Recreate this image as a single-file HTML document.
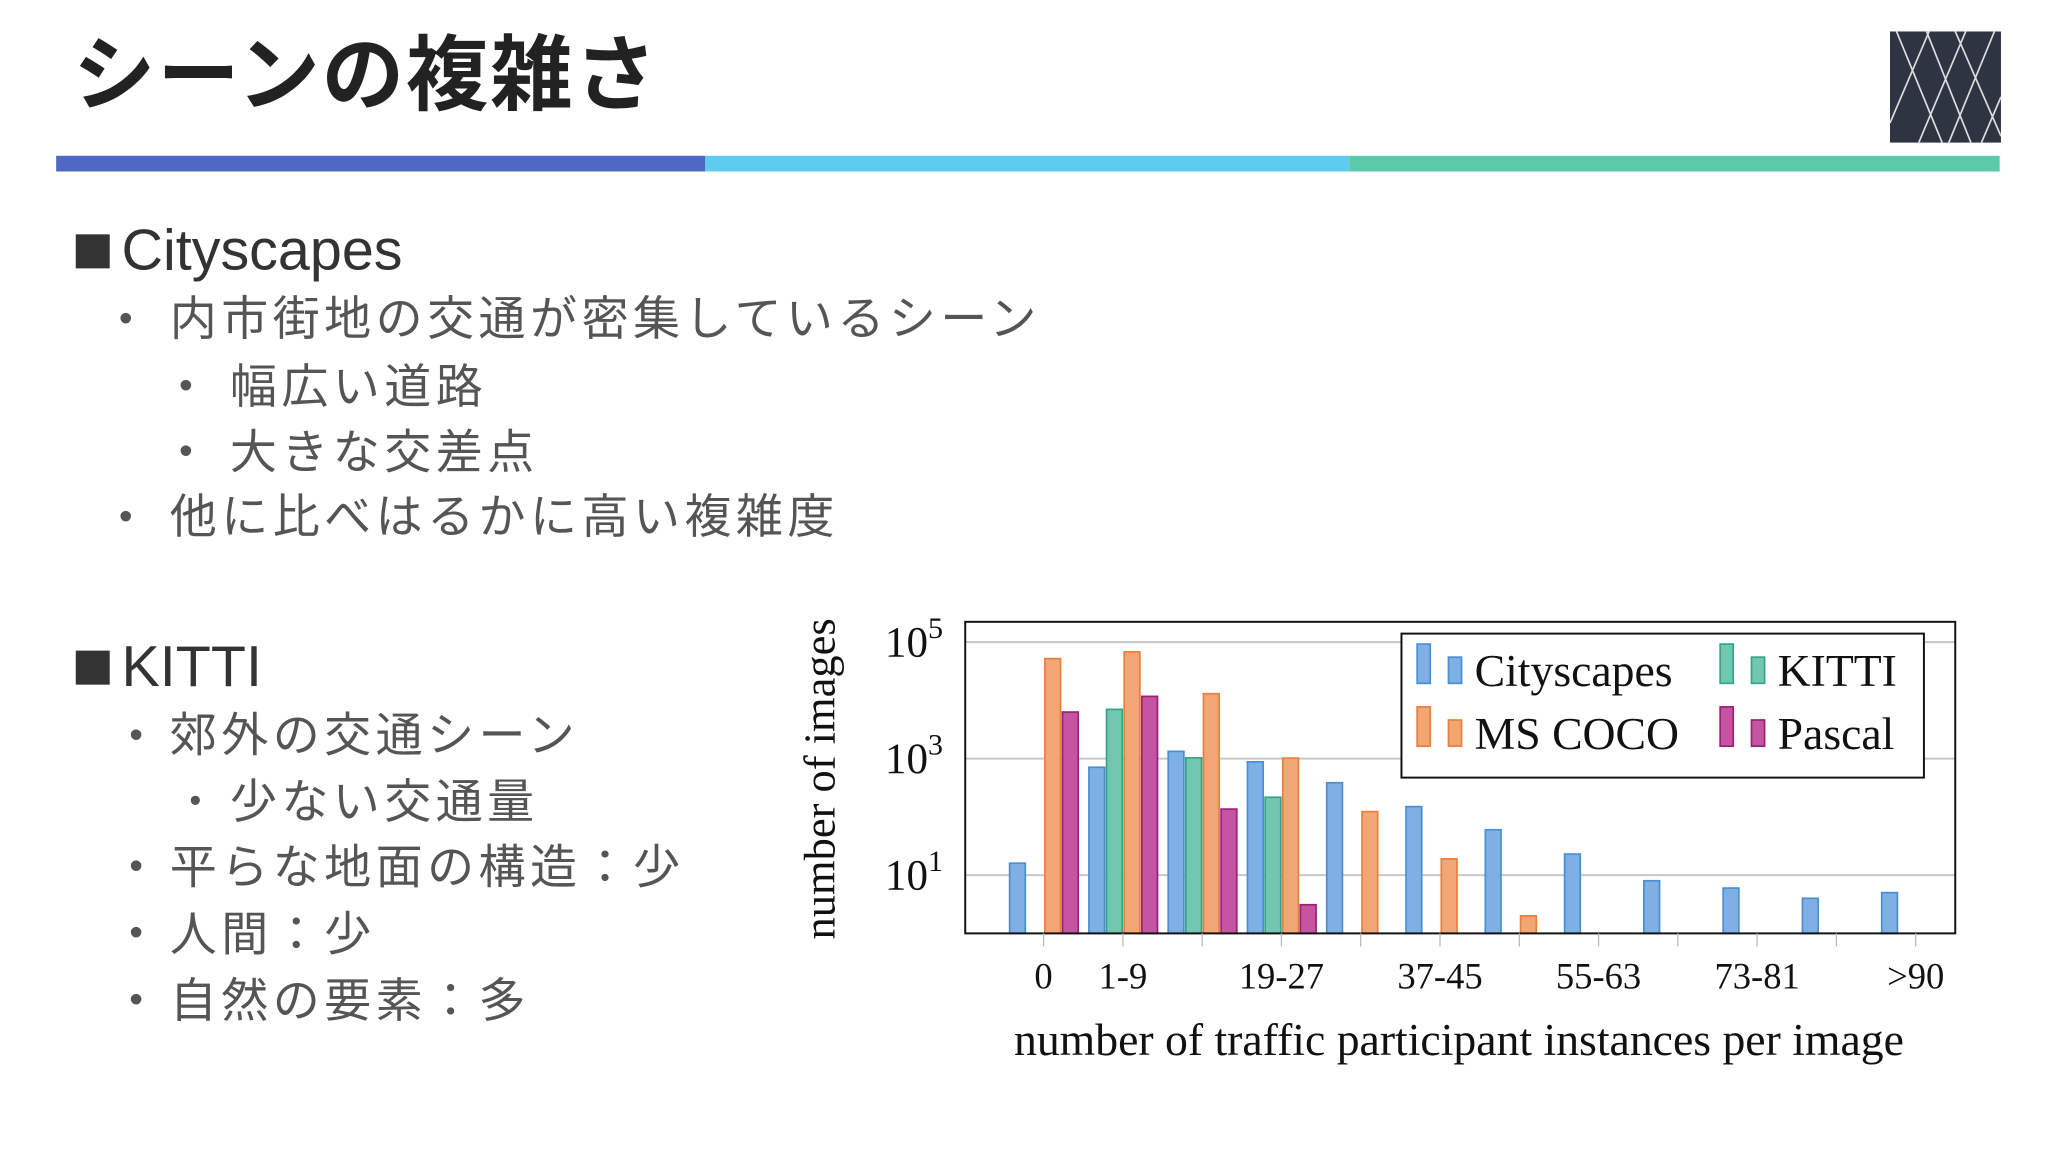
<!DOCTYPE html>
<html><head><meta charset="utf-8"><style>
html,body{margin:0;padding:0;background:#fff;overflow:hidden}
#page{position:absolute;left:0;top:0;width:1568px;height:880px;transform-origin:0 0;transform:scale(1.30612,1.30909);font-family:"Liberation Sans","Noto Sans CJK JP",sans-serif}
.t{position:absolute;white-space:nowrap;line-height:1}
.b{position:absolute;font-size:30px;color:#555;line-height:1}
.j{letter-spacing:3.4px}
</style></head><body>
<div id="page">
<div class="t" style="left:56px;top:27px;font-size:63px;font-weight:bold;color:#222;letter-spacing:1.5px">シーンの複雑さ</div>
<svg style="position:absolute;left:1447px;top:24px" width="85" height="85"><rect width="85" height="85" fill="#2e3442"/><g stroke="#ddd" stroke-width="1.3" fill="none"><path d="M5 0 L40 85 M28 0 L62 85 M50 0 L85 80 M0 70 L30 0 M22 85 L58 0 M45 85 L80 0 M70 85 L85 50"/></g></svg>
<div style="position:absolute;left:43px;top:119px;width:497px;height:12px;background:#5068c4"></div>
<div style="position:absolute;left:540px;top:119px;width:493px;height:12px;background:#5fcbef"></div>
<div style="position:absolute;left:1033px;top:119px;width:498px;height:12px;background:#5ccaa8"></div>

<div style="position:absolute;left:58px;top:179px;width:26px;height:26px;background:#333"></div>
<div class="t" style="left:93px;top:170px;font-size:44px;color:#333">Cityscapes</div>
<div class="b" style="left:91px;top:229px">•</div>
<div class="t j" style="left:130px;top:226px;font-size:36px;color:#555">内市街地の交通が密集しているシーン</div>
<div class="b" style="left:137px;top:280px">•</div>
<div class="t j" style="left:176px;top:278px;font-size:36px;color:#555">幅広い道路</div>
<div class="b" style="left:137px;top:330px">•</div>
<div class="t j" style="left:176px;top:328px;font-size:36px;color:#555">大きな交差点</div>
<div class="b" style="left:91px;top:380px">•</div>
<div class="t j" style="left:130px;top:377px;font-size:36px;color:#555">他に比べはるかに高い複雑度</div>

<div style="position:absolute;left:58px;top:497px;width:26px;height:26px;background:#333"></div>
<div class="t" style="left:93px;top:488px;font-size:44px;color:#333">KITTI</div>
<div class="b" style="left:99px;top:547px">•</div>
<div class="t j" style="left:130px;top:544px;font-size:36px;color:#555">郊外の交通シーン</div>
<div class="b" style="left:145px;top:598px;font-size:26px">•</div>
<div class="t j" style="left:176px;top:595px;font-size:36px;color:#555">少ない交通量</div>
<div class="b" style="left:99px;top:647px">•</div>
<div class="t j" style="left:130px;top:645px;font-size:36px;color:#555">平らな地面の構造：少</div>
<div class="b" style="left:99px;top:698px">•</div>
<div class="t j" style="left:130px;top:696px;font-size:36px;color:#555">人間：少</div>
<div class="b" style="left:99px;top:749px">•</div>
<div class="t j" style="left:130px;top:747px;font-size:36px;color:#555">自然の要素：多</div>

<svg id="chart" style="position:absolute;left:0;top:0" width="1568" height="880" font-family="'Liberation Serif',serif"></svg>
</div>
<script>
const categories=["0","1-9","10-18","19-27","28-36","37-45","46-54","55-63","64-72","73-81","82-90",">90"];
const tickLabels=["0","1-9","","19-27","","37-45","","55-63","","73-81","",">90"];
const seriesNames=["Cityscapes","KITTI","MS COCO","Pascal"];
const cityscapes=[16,710,1330,880,385,150,60,23,8,6,4,5];
const kitti=[null,7000,1030,217,null,null,null,null,null,null,null,null];
const mscoco=[52000,68000,13000,1020,123,19,2,null,null,null,null,null];
const pascal=[6300,11700,136,3.1,null,null,null,null,null,null,null,null];
const yTicks=[10,1000,100000];
const yTickExp=["1","3","5"];

const NS="http://www.w3.org/2000/svg";
const svg=document.getElementById('chart');
const PL=739,PR=1497,PT=475,PB=713;
function y(v){return PB-Math.log10(v)*44.5;}
function x(i){return 799+i*60.7;}
function mk(t,a,p){const e=document.createElementNS(NS,t);for(const k in a)e.setAttribute(k,a[k]);(p||svg).appendChild(e);return e;}
const series=[cityscapes,kitti,mscoco,pascal];
const fills=["#7eb0e4","#72c7b0","#f2a673","#c455a0"];
const strokes=["#4a8fd6","#35a585","#e8803d","#9e1f78"];
const offs=[-20,-6.5,7,20.5];
yTicks.forEach((v,i)=>{
  const g=mk('line',{x1:PL,x2:PR,y1:y(v),y2:y(v),stroke:'#c8c8c8','stroke-width':1.5});
  
  
  const t=mk('text',{x:722,y:y(v)+11,'font-size':33,'text-anchor':'end',fill:'#111'});
  
  
  t.textContent='10';
  const s=mk('tspan',{dy:-14,'font-size':23},t);s.textContent=yTickExp[i];
});
series.forEach((arr,s)=>{
  arr.forEach((v,i)=>{
    if(v==null)return;
    const r=mk('rect',{x:x(i)+offs[s]-6,y:y(v),width:12,height:PB-y(v),fill:fills[s],stroke:strokes[s],'stroke-width':1.3});
    
    
  });
});
const fr=mk('rect',{x:PL,y:PT,width:PR-PL,height:PB-PT,fill:'none',stroke:'#111','stroke-width':1.5});


categories.forEach((c,i)=>{
  const tk=mk('line',{x1:x(i),x2:x(i),y1:PB,y2:PB+10,stroke:'#bbb','stroke-width':1});
  
  
  if(tickLabels[i]){
    const t=mk('text',{x:x(i),y:755,'font-size':28,'text-anchor':'middle',fill:'#111'});
    
    
    t.textContent=tickLabels[i];
  }
});
const xt=mk('text',{x:1117,y:806,'font-size':35,'text-anchor':'middle',fill:'#111'});


xt.textContent='number of traffic participant instances per image';
const yt=mk('text',{x:0,y:0,'font-size':34,'text-anchor':'middle',fill:'#111',transform:'translate(639,595) rotate(-90)'});


yt.textContent='number of images';
const lg=mk('rect',{x:1073,y:484,width:400,height:110,fill:'#fff',stroke:'#111','stroke-width':1.5});


const lpos=[[1085,492],[1317,492],[1085,540],[1317,540]];
[0,1,2,3].forEach((s,k)=>{
  const [lx,ly]=lpos[k];
  const a=mk('rect',{x:lx,y:ly,width:10,height:30,fill:fills[s],stroke:strokes[s],'stroke-width':1.3});
  
  
  const b=mk('rect',{x:lx+24,y:ly+10,width:10,height:20,fill:fills[s],stroke:strokes[s],'stroke-width':1.3});
  
  
  const t=mk('text',{x:lx+44,y:ly+32,'font-size':35,fill:'#111'});
  
  
  t.textContent=seriesNames[s];
});
</script>
</body></html>
